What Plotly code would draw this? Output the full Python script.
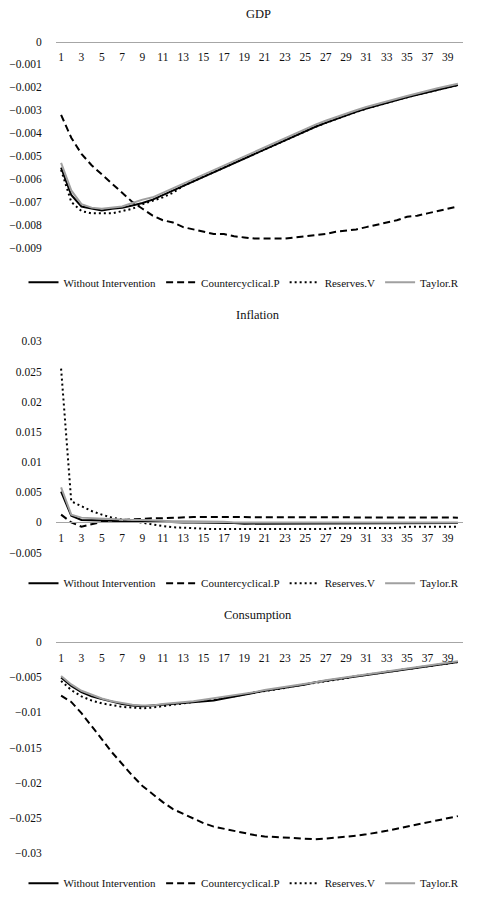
import plotly.graph_objects as go

periodos = list(range(1, 41))
series = ["Without Intervention", "Countercyclical.P", "Reserves.V", "Taylor.R"]

# GDP
gdp_without = [-0.0055, -0.0067, -0.0072, -0.0073, -0.00737, -0.0073, -0.00726, -0.00716, -0.00705, -0.0069,
               -0.0067, -0.0065, -0.0063, -0.0061, -0.0059, -0.0057, -0.0055, -0.0053, -0.0051, -0.0049,
               -0.0047, -0.0045, -0.0043, -0.0041, -0.0039, -0.00372, -0.00355, -0.00338, -0.00322, -0.00307,
               -0.00293, -0.0028, -0.00267, -0.00255, -0.00243, -0.00232, -0.00221, -0.0021, -0.002, -0.0019]
gdp_counter = [-0.0032, -0.0042, -0.0049, -0.0054, -0.0058, -0.0062, -0.0066, -0.0070, -0.0073, -0.0076,
               -0.0078, -0.0079, -0.0081, -0.0082, -0.0083, -0.0084, -0.0084, -0.0085, -0.00855, -0.0086,
               -0.0086, -0.0086, -0.0086, -0.00855, -0.0085, -0.00845, -0.0084, -0.0083, -0.00825, -0.0082,
               -0.0081, -0.0080, -0.0079, -0.0078, -0.00765, -0.0076, -0.0075, -0.0074, -0.0073, -0.0072]
gdp_reserves = [-0.0056, -0.0070, -0.0074, -0.0075, -0.0075, -0.0075, -0.0074, -0.0073, -0.0071, -0.00695,
                -0.0068, -0.0066, -0.0063, -0.0061, -0.0059, -0.0057, -0.0055, -0.0053, -0.0051, -0.0049,
                -0.0047, -0.0045, -0.0043, -0.0041, -0.0039, -0.00372, -0.00355, -0.00338, -0.00322, -0.00307,
                -0.00293, -0.0028, -0.00267, -0.00255, -0.00243, -0.00232, -0.00221, -0.0021, -0.002, -0.0019]
gdp_taylor = [-0.0053, -0.0065, -0.0071, -0.00725, -0.0073, -0.00725, -0.0072, -0.00705, -0.0069, -0.0068,
              -0.0066, -0.0064, -0.0062, -0.0060, -0.0058, -0.0056, -0.0054, -0.0052, -0.0050, -0.0048,
              -0.0046, -0.0044, -0.0042, -0.0040, -0.0038, -0.00363, -0.00346, -0.0033, -0.00314, -0.0030,
              -0.00286, -0.00273, -0.00261, -0.0025, -0.00238, -0.00226, -0.00215, -0.00204, -0.00194, -0.00184]

# Inflation
inf_without = [0.0051, 0.0011, 0.0004, 0.0004, 0.0004, 0.0003, 0.0001, 0.0001, 0.0003, 0.0002,
               0.0002, 0.0001, 0.0, 0.0, 0.0, 0.0, 0.0, -0.0001, -0.0002, -0.0002,
               -0.0002, -0.0002, -0.0002, -0.0002, -0.0002, -0.0002, -0.0002, -0.0001, -0.0001, -0.0001,
               -0.0001, -0.0001, -0.0001, -0.0001, -0.0001, -0.0001, -0.0001, -0.0001, -0.0001, -0.0001]
inf_counter = [0.0013, 0.0, -0.0007, -0.0003, 0.0001, 0.0003, 0.0004, 0.0006, 0.0006, 0.0007,
               0.0007, 0.0008, 0.0008, 0.0009, 0.0009, 0.0009, 0.0009, 0.0009, 0.0009, 0.0009,
               0.0009, 0.0009, 0.0009, 0.0009, 0.0009, 0.0009, 0.0009, 0.0009, 0.0008, 0.0008,
               0.0008, 0.0008, 0.0008, 0.0008, 0.0008, 0.0008, 0.0008, 0.0008, 0.0008, 0.0008]
inf_reserves = [0.0255, 0.0035, 0.0027, 0.0019, 0.0013, 0.0008, 0.0005, 0.0002, -0.0001, -0.0004,
                -0.0006, -0.0008, -0.0009, -0.001, -0.0011, -0.0011, -0.0011, -0.0011, -0.0011, -0.0011,
                -0.0011, -0.0011, -0.0011, -0.0011, -0.0011, -0.0011, -0.0011, -0.0009, -0.0009, -0.0009,
                -0.0009, -0.0009, -0.0009, -0.0009, -0.0007, -0.0007, -0.0007, -0.0007, -0.0007, -0.0007]
inf_taylor = [0.0058, 0.0013, 0.0008, 0.0007, 0.0006, 0.0005, 0.0005, 0.0004, 0.0004, 0.0003,
              0.0003, 0.0002, 0.0002, 0.0002, 0.0001, 0.0001, 0.0001, 0.0, 0.0, 0.0,
              0.0, 0.0, 0.0, 0.0, 0.0, 0.0, 0.0, 0.0, 0.0, 0.0,
              0.0, 0.0, 0.0, 0.0, 0.0, 0.0, 0.0, 0.0, 0.0, 0.0]

# Consumption
cons_without = [-0.005, -0.0062, -0.0071, -0.0077, -0.0081, -0.0085, -0.0088, -0.009, -0.0091, -0.009,
                -0.0089, -0.0088, -0.0086, -0.0085, -0.0084, -0.0083, -0.008, -0.0077, -0.0074, -0.0072,
                -0.0069, -0.0067, -0.0065, -0.0062, -0.006, -0.0057, -0.0055, -0.0053, -0.0051, -0.0048,
                -0.0046, -0.0044, -0.0042, -0.004, -0.0038, -0.0036, -0.0034, -0.0032, -0.003, -0.0028]
cons_counter = [-0.0076, -0.0085, -0.0101, -0.0119, -0.0138, -0.0157, -0.0174, -0.019, -0.0205, -0.0217,
                -0.0228, -0.0238, -0.0245, -0.0252, -0.0258, -0.0263, -0.0266, -0.027, -0.0272, -0.0275,
                -0.0277, -0.0278, -0.0279, -0.028, -0.0281, -0.0281, -0.028, -0.0279, -0.0278, -0.0276,
                -0.0274, -0.0272, -0.0269, -0.0266, -0.0263, -0.026, -0.0257, -0.0254, -0.0251, -0.0248]
cons_reserves = [-0.0055, -0.0068, -0.0077, -0.0083, -0.0087, -0.009, -0.0092, -0.0093, -0.0094, -0.0093,
                 -0.0091, -0.009, -0.0088, -0.0086, -0.0084, -0.0082, -0.0079, -0.0077, -0.0074, -0.0072,
                 -0.0069, -0.0067, -0.0065, -0.0062, -0.006, -0.0057, -0.0055, -0.0053, -0.0051, -0.0048,
                 -0.0046, -0.0044, -0.0042, -0.004, -0.0038, -0.0036, -0.0034, -0.0032, -0.003, -0.0028]
cons_taylor = [-0.0048, -0.006, -0.0069, -0.0075, -0.008, -0.0084, -0.0087, -0.0089, -0.009, -0.009,
               -0.0088, -0.0087, -0.0085, -0.0084, -0.0082, -0.008, -0.0078, -0.0076, -0.0073, -0.0071,
               -0.0068, -0.0066, -0.0064, -0.0061, -0.0059, -0.0057, -0.0054, -0.0052, -0.005, -0.0047,
               -0.0045, -0.0043, -0.0041, -0.0039, -0.0037, -0.0035, -0.0033, -0.0031, -0.0029, -0.0027]

# posicoes em pixels (de cima para baixo)
paineis = [
    {"titulo": "GDP", "dados": [gdp_without, gdp_counter, gdp_reserves, gdp_taylor],
     "faixa": [-0.009, 0], "dtick": 0.001, "topo": 36, "base": 245, "titulo_y": 8, "legenda_y": 280},
    {"titulo": "Inflation", "dados": [inf_without, inf_counter, inf_reserves, inf_taylor],
     "faixa": [-0.005, 0.03], "dtick": 0.005, "topo": 340, "base": 554, "titulo_y": 313, "legenda_y": 585},
    {"titulo": "Consumption", "dados": [cons_without, cons_counter, cons_reserves, cons_taylor],
     "faixa": [-0.03, 0], "dtick": 0.005, "topo": 645, "base": 858, "titulo_y": 617, "legenda_y": 889},
]

estilos = [
    {"color": "#000000", "width": 2, "dash": "solid"},
    {"color": "#000000", "width": 2, "dash": "7px,4px"},
    {"color": "#000000", "width": 2, "dash": "2px,3px"},
    {"color": "#a0a0a0", "width": 2, "dash": "solid"},
]

LARGURA = 480
ALTURA = 900
# area do grafico em pixels (margem zero, dominio do eixo x faz o recuo)
X_ESQ, X_DIR = 56, 463
fonte = "Liberation Serif"
cor_texto = "#111111"

fig = go.Figure()
layout = {}
anotacoes = []

for i, painel in enumerate(paineis):
    n = "" if i == 0 else str(i + 1)
    dom = [1 - painel["base"] / ALTURA, 1 - painel["topo"] / ALTURA]
    y0, y1 = painel["faixa"]
    # eixo x cruza o y em zero
    pos_zero = dom[0] + (0 - y0) / (y1 - y0) * (dom[1] - dom[0])

    for nome, valores, estilo in zip(series, painel["dados"], estilos):
        fig.add_trace(go.Scatter(
            x=periodos,
            y=valores,
            mode="lines",
            name=nome,
            line=estilo,
            xaxis="x" + n,
            yaxis="y" + n,
            legend="legend" + n,
        ))

    layout["xaxis" + n] = {
        "domain": [X_ESQ / LARGURA, X_DIR / LARGURA],
        "range": [0.5, 40.5],
        "tick0": 1,
        "dtick": 2,
        "anchor": "free",
        "position": pos_zero,
        "showline": True,
        "linecolor": "#a6a6a6",
        "linewidth": 1,
        "showgrid": False,
        "zeroline": False,
        "ticks": "outside",
        "ticklen": 5,
        "tickcolor": "rgba(0,0,0,0)",
        "tickfont": {"size": 11.5},
        "fixedrange": True,
    }
    layout["yaxis" + n] = {
        "domain": dom,
        "range": painel["faixa"],
        "dtick": painel["dtick"],
        "anchor": "x" + n,
        "showline": False,
        "showgrid": False,
        "zeroline": False,
        "ticks": "outside",
        "ticklen": 11,
        "tickcolor": "rgba(0,0,0,0)",
        "tickfont": {"size": 11.5},
        "fixedrange": True,
    }
    layout["legend" + n] = {
        "orientation": "h",
        "x": 244 / LARGURA,
        "xanchor": "center",
        "y": 1 - painel["legenda_y"] / ALTURA,
        "yanchor": "middle",
        "font": {"size": 11},
        "bgcolor": "rgba(0,0,0,0)",
        "itemwidth": 30,
    }
    anotacoes.append({
        "text": painel["titulo"],
        "x": 258 / LARGURA,
        "xref": "paper",
        "y": 1 - painel["titulo_y"] / ALTURA,
        "yref": "paper",
        "xanchor": "center",
        "yanchor": "middle",
        "showarrow": False,
        "font": {"size": 12.5},
    })

fig.update_layout(
    width=LARGURA,
    height=ALTURA,
    margin={"l": 0, "r": 0, "t": 0, "b": 0},
    paper_bgcolor="white",
    plot_bgcolor="white",
    font={"family": fonte, "color": cor_texto},
    annotations=anotacoes,
    **layout,
)

fig.write_html(
    "out.html",
    config={"displayModeBar": False},
    post_script="document.body.style.margin='0';",
)
